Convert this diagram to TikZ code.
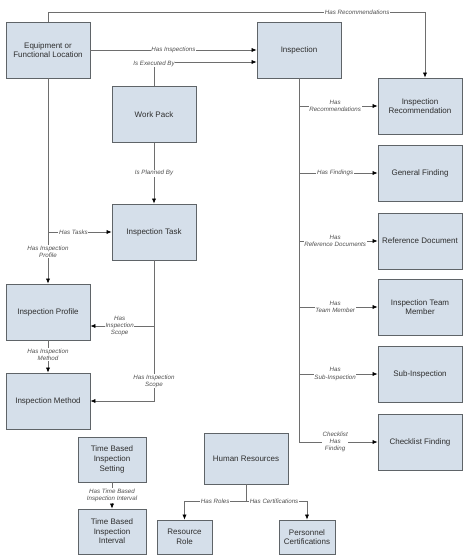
\documentclass[tikz,border=0pt]{standalone}
\usepackage{fontspec}
\setmainfont{Liberation Sans}
\usetikzlibrary{arrows.meta, positioning}
\definecolor{boxfill}{HTML}{D5DFEA}
\definecolor{boxline}{HTML}{5F6468}
\definecolor{boxtext}{HTML}{2E2E2E}
\definecolor{linkgray}{HTML}{6E6E6E}
\definecolor{reltext}{HTML}{505050}
\tikzset{
  entity/.style={rectangle, draw=boxline, fill=boxfill, line width=0.8pt, minimum width=84pt, minimum height=56pt, align=center, inner sep=2pt, text=boxtext, font=\fontsize{8}{9.6}\selectfont},
  smallentity/.style={entity, minimum width=68pt, minimum height=45pt},
  tinyentity/.style={entity, minimum width=55pt, minimum height=34pt},
  rel/.style={fill=white, inner sep=0.6pt, align=center, text=reltext, font=\fontsize{6.2}{7.2}\selectfont\itshape},
  link/.style={draw=linkgray, line width=0.7pt, -{Latex[length=5pt,width=4.2pt,color=black]}},
  wire/.style={draw=linkgray, line width=0.7pt}
}

\begin{document}
\begin{tikzpicture}[x=1pt, y=-1pt]
    \useasboundingbox (0,0) rectangle (474,559);

    % Bloques principales
    \node[entity] (equip) at (48,50) {Equipment or\\Functional Location};
    \node[entity] (insp) at (299,50) {Inspection};
    \node[entity] (workpack) at (154,114.5) {Work Pack};
    \node[entity] (task) at (154,232) {Inspection Task};
    \node[entity] (profile) at (48,312) {Inspection Profile};
    \node[entity] (method) at (48,401) {Inspection Method};

    % Columna derecha
    \node[entity] (insprec) at (420,106) {Inspection\\Recommendation};
    \node[entity] (genfind) at (420,173) {General Finding};
    \node[entity] (refdoc) at (420,241) {Reference Document};
    \node[entity] (team) at (420,307) {Inspection Team\\Member};
    \node[entity] (subinsp) at (420,374) {Sub-Inspection};
    \node[entity] (checkfind) at (420,442) {Checklist Finding};

    % Bloques inferiores
    \node[smallentity] (tbsetting) at (112,459.5) {Time Based\\Inspection\\Setting};
    \node[smallentity] (tbinterval) at (112,531.5) {Time Based\\Inspection\\Interval};
    \node[entity, minimum height=51pt] (humres) at (246,458.5) {Human Resources};
    \node[tinyentity] (resrole) at (184.5,537) {Resource\\Role};
    \node[tinyentity, minimum width=56pt] (perscert) at (307,537) {Personnel\\Certifications};

    % Puntos auxiliares
    \coordinate (recrail) at (425,12);
    \coordinate (hrfork) at ([yshift=-17pt]humres.south);

    % --- CONEXIONES SUPERIORES ---
    \draw[link] (equip.north) |- node[rel, pos=0.91] {Has Recommendations} (recrail) -- (recrail |- insprec.north);
    \draw[link] (equip.east) -- node[rel] {Has Inspections} (insp.west);
    \draw[link] (workpack.north) |- node[rel, pos=0.5, yshift=-1.5pt] {Is Executed By} ([yshift=-12pt]insp.west);
    \draw[link] (workpack.south) -- node[rel] {Is Planned By} (task.north);

    % --- CONEXIONES DEL LADO IZQUIERDO ---
    \draw[link] (equip.south) -- node[rel, pos=0.845] {Has Inspection\\Profile} (profile.north);
    \draw[link] (equip.south |- task.west) -- node[rel, pos=0.4] {Has Tasks} (task.west);
    \draw[link] (task.south) |- node[rel, pos=0.77] {Has\\Inspection\\Scope} ([yshift=-14pt]profile.east);
    \draw[link] (task.south) |- node[rel, pos=0.43] {Has Inspection\\Scope} (method.east);
    \draw[link] (profile.south) -- node[rel, pos=0.45] {Has Inspection\\Method} (method.north);

    % --- CONEXIONES DE INSPECTION ---
    \draw[link] (insp.south) |- node[rel, pos=0.73] {Has\\Recommendations} (insprec.west);
    \draw[link] (insp.south) |- node[rel, pos=0.73] {Has Findings} (genfind.west);
    \draw[link] (insp.south) |- node[rel, pos=0.73] {Has\\Reference Documents} (refdoc.west);
    \draw[link] (insp.south) |- node[rel, pos=0.73] {Has\\Team Member} (team.west);
    \draw[link] (insp.south) |- node[rel, pos=0.73] {Has\\Sub-Inspection} (subinsp.west);
    \draw[link] (insp.south) |- node[rel, pos=0.73] {Checklist\\Has\\Finding} (checkfind.west);

    % --- CONEXIONES INFERIORES ---
    \draw[link] (tbsetting.south) -- node[rel] {Has Time Based\\Inspection Interval} (tbinterval.north);
    \draw[wire] (humres.south) -- (hrfork);
    \draw[link] (hrfork) -| node[rel, pos=0.25] {Has Roles} (resrole.north);
    \draw[link] (hrfork) -| node[rel, pos=0.23] {Has Certifications} (perscert.north);

\end{tikzpicture}
\end{document}
